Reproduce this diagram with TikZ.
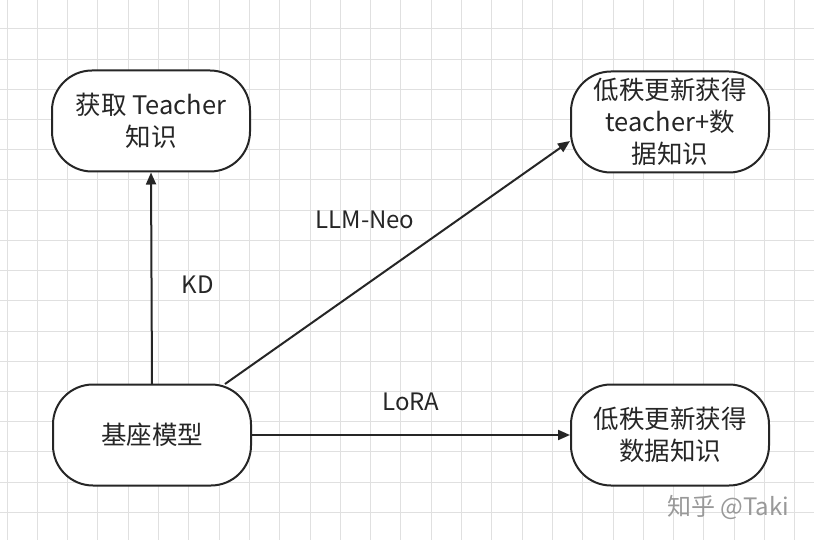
\documentclass[tikz,border=0pt]{standalone}
\usepackage{fontspec}
\setmainfont{Noto Sans CJK SC}
\usetikzlibrary{arrows.meta}
\begin{document}
\begin{tikzpicture}[x=1pt,y=-1pt,
  box/.style={draw=black!85,line width=2pt,rounded corners=40pt,minimum width=198pt,minimum height=101pt,align=center,font=\fontsize{25.5}{32}\selectfont,text=black!85,fill=white},
  arr/.style={draw=black!85,line width=2pt,-{Triangle[length=12pt,width=10pt]}},
  lbl/.style={font=\fontsize{24}{28}\selectfont,text=black!85}]
\useasboundingbox (0,0) rectangle (814,540);
\fill[white] (0,0) rectangle (814,540);
\foreach \i in {0,...,26} \draw[black!12,line width=1pt] (7+30.3*\i,0) -- (7+30.3*\i,540);
\foreach \i in {0,...,18} \draw[black!12,line width=1pt] (0,29+30.2*\i) -- (814,29+30.2*\i);
\node[box] (tk) at (151,121) {获取 Teacher\\知识};
\node[box,font=\fontsize{25.5}{32}\selectfont] (tr) at (670,122) {低秩更新获得\\teacher+数\\据知识};
\node[box] (base) at (152,435) {基座模型};
\node[box] (lr) at (670,435) {低秩更新获得\\数据知识};
\coordinate (bt) at (152,384);
\coordinate (bd) at (225,384);
\coordinate (trl) at (570,141);
\draw[arr] (bt) -- (tk.south);
\draw[arr] (bd) -- (trl);
\draw[arr] (base.east) -- (lr.west);
\node[lbl] (kd) at (198,285) {KD};
\node[lbl] (neo) at (365,220) {LLM-Neo};
\node[lbl] (lora) at (411,402) {LoRA};
\node[font=\fontsize{24}{28}\selectfont,text=black!40] (wm) at (728,507) {知乎 @Taki};
\end{tikzpicture}
\end{document}
